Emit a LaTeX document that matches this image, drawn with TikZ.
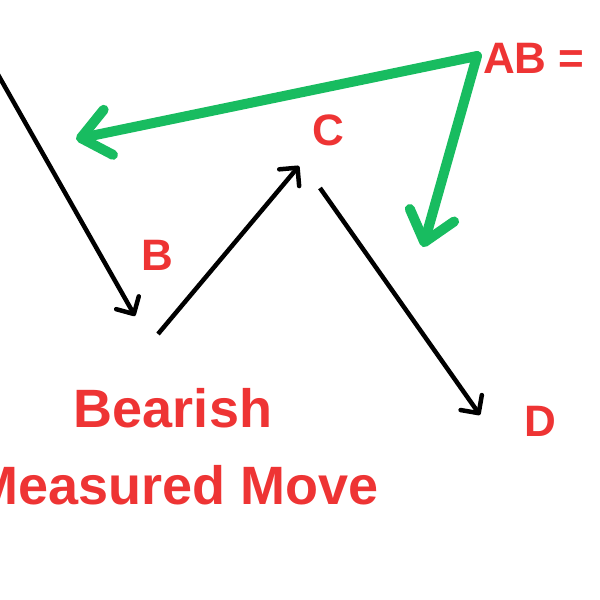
\documentclass[tikz,border=0pt]{standalone}
\usepackage{fontspec}
\setmainfont{Liberation Sans}
\usetikzlibrary{arrows.meta}
\definecolor{labelred}{RGB}{238,52,52}
\definecolor{movegreen}{RGB}{24,188,96}
\begin{document}
\begin{tikzpicture}[x=1pt, y=-1pt,
  every node/.style={font=\bfseries\fontsize{44}{44}\selectfont, text=labelred, inner sep=0pt},
  title/.style={font=\bfseries\fontsize{54}{54}\selectfont},
  leg/.style={line width=4.5pt, -{Straight Barb[length=13pt, width=26pt, round]}},
  measure/.style={movegreen, line width=10pt, line join=round, line cap=round,
    {Straight Barb[length=28pt, width=46pt, round]}-{Straight Barb[length=28pt, width=46pt, round]}}]
  \useasboundingbox (0,0) rectangle (600,600);
  \clip (0,0) rectangle (600,600);
  % swing points
  \coordinate (a0) at (-8,64);   \coordinate (b1) at (135,316);
  \coordinate (b0) at (158,334); \coordinate (c1) at (299,166);
  \coordinate (c0) at (320,188); \coordinate (d1) at (480,415);
  % AB = CD measure
  \coordinate (mleft) at (76,139); \coordinate (mtop) at (477,56); \coordinate (mdown) at (423,247);
  % legs
  \draw[leg] (a0) -- (b1);
  \draw[leg] (b0) -- (c1);
  \draw[leg] (c0) -- (d1);
  \draw[measure] (mleft) -- (mtop) -- (mdown);
  % labels
  \node[anchor=base west] (lab) at (483,73) {AB =};
  \node[anchor=base] (lb) at (157,270) {B};
  \node[anchor=base] (lc) at (328,145) {C};
  \node[anchor=base] (ld) at (540,436) {D};
  \node[title, anchor=base] (t1) at (173,427) {Bearish};
  \node[title, anchor=base east] (t2) at (379,504) {Measured Move};
\end{tikzpicture}
\end{document}
